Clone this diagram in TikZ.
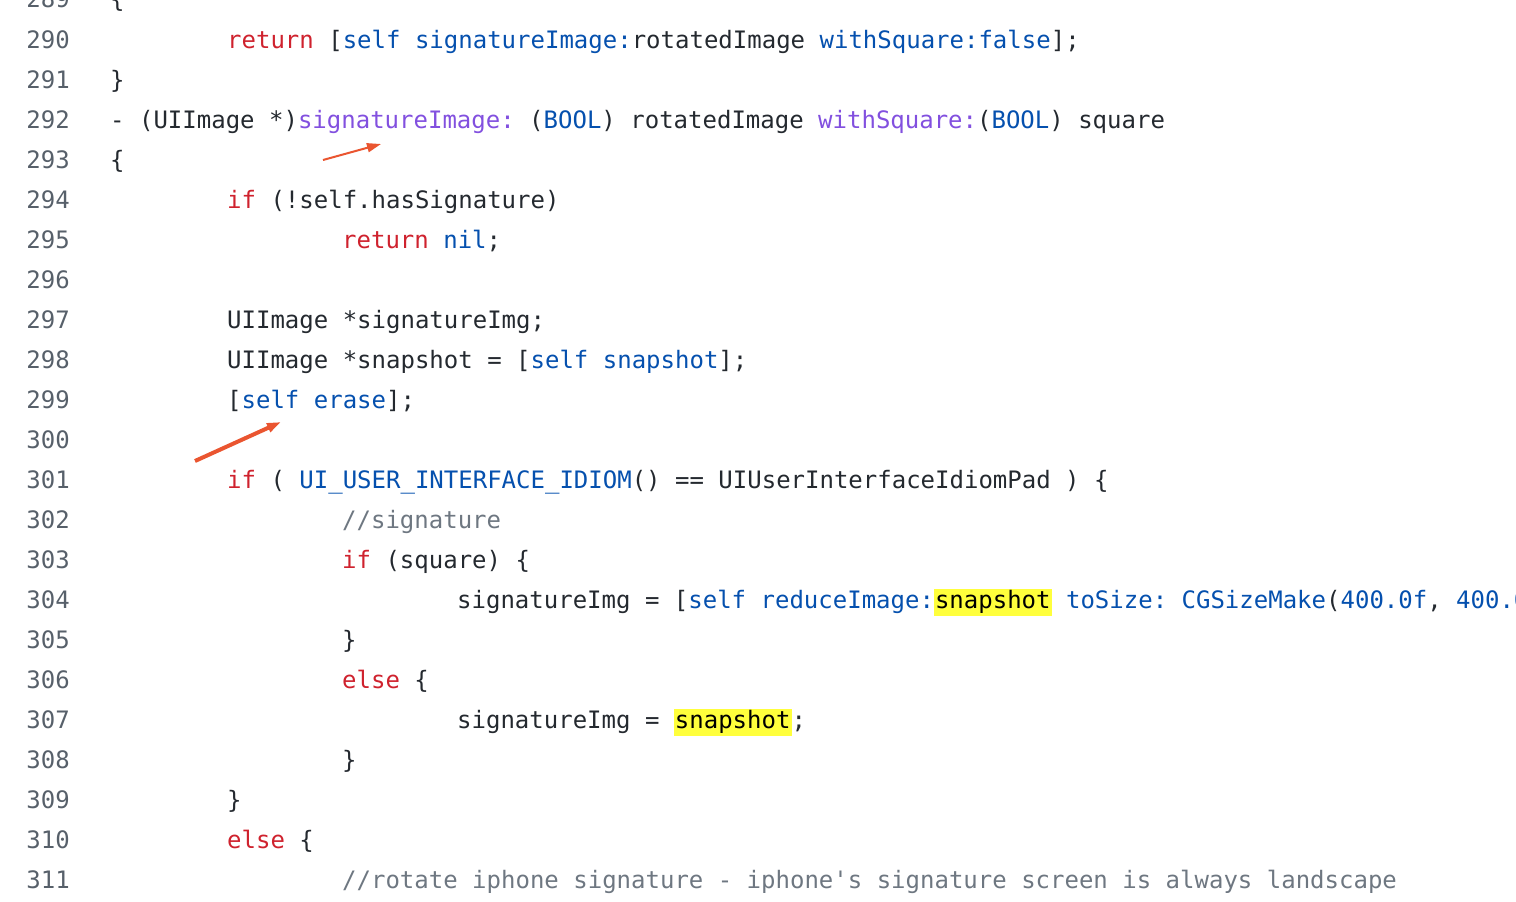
\documentclass[tikz,border=0pt]{standalone}
\usepackage{fontspec}
\setmonofont{DejaVu Sans Mono}
\usetikzlibrary{arrows.meta}
\definecolor{kw}{HTML}{CF222E}
\definecolor{bl}{HTML}{0550AE}
\definecolor{pu}{HTML}{8250DF}
\definecolor{cm}{HTML}{6E7781}
\definecolor{tx}{HTML}{24292F}
\definecolor{ln}{HTML}{57606A}
\definecolor{hl}{HTML}{FFFF3C}
\definecolor{ar}{HTML}{EA5530}
\newcommand\Kw[1]{{\color{kw}#1}}
\newcommand\Bl[1]{{\color{bl}#1}}
\newcommand\Pu[1]{{\color{pu}#1}}
\newcommand\Cm[1]{{\color{cm}#1}}
\newcommand\Hl[1]{{\setlength\fboxsep{1pt}\colorbox{hl}{\color{black}\strut #1}}}
\tikzset{x=1pt,y=-1pt,
 code/.style={anchor=base west,inner sep=0pt,font=\ttfamily\fontsize{24}{24}\selectfont,text=tx},
 lnum/.style={anchor=base east,inner sep=0pt,font=\ttfamily\fontsize{24}{24}\selectfont,text=ln},
 mark arrow/.style={draw=ar,-{Triangle[length=14pt,width=9pt]}}}
\begin{document}
\begin{tikzpicture}
\useasboundingbox (0,0) rectangle (1516,902);
\clip (0,0) rectangle (1516,902);
\foreach \n [count=\i from 0] in {289,...,311}
  \node[lnum] (n\n) at (70,{\i*40+8}) {\n};
\newcommand\Ln[3]{\node[code] (c#1) at (#2,{(#1-289)*40+8}) {#3};}
\Ln{289}{110}{\{}
\Ln{290}{227}{\Kw{return} [\Bl{self signatureImage:}rotatedImage \Bl{withSquare:false}];}
\Ln{291}{110}{\}}
\Ln{292}{110}{- (UIImage *)\Pu{signatureImage:} (\Bl{BOOL}) rotatedImage \Pu{withSquare:}(\Bl{BOOL}) square}
\Ln{293}{110}{\{}
\Ln{294}{227}{\Kw{if} (!self.hasSignature)}
\Ln{295}{342}{\Kw{return} \Bl{nil};}
\Ln{297}{227}{UIImage *signatureImg;}
\Ln{298}{227}{UIImage *snapshot = [\Bl{self snapshot}];}
\Ln{299}{227}{[\Bl{self erase}];}
\Ln{301}{227}{\Kw{if} ( \Bl{UI\_USER\_INTERFACE\_IDIOM}() == UIUserInterfaceIdiomPad ) \{}
\Ln{302}{342}{\Cm{//signature}}
\Ln{303}{342}{\Kw{if} (square) \{}
\Ln{304}{457}{signatureImg = [\Bl{self reduceImage:}\Hl{snapshot} \Bl{toSize: CGSizeMake}(\Bl{400.0f}, \Bl{400.0f})];}
\Ln{305}{342}{\}}
\Ln{306}{342}{\Kw{else} \{}
\Ln{307}{457}{signatureImg = \Hl{snapshot};}
\Ln{308}{342}{\}}
\Ln{309}{227}{\}}
\Ln{310}{227}{\Kw{else} \{}
\Ln{311}{342}{\Cm{//rotate iphone signature - iphone's signature screen is always landscape}}
\coordinate (a1s) at (323,160); \coordinate (a1e) at (381,144);
\coordinate (a2s) at (195,461); \coordinate (a2e) at (281,422);
\draw[mark arrow,line width=2pt] (a1s) -- (a1e);
\draw[mark arrow,line width=4pt] (a2s) -- (a2e);
\end{tikzpicture}
\end{document}
